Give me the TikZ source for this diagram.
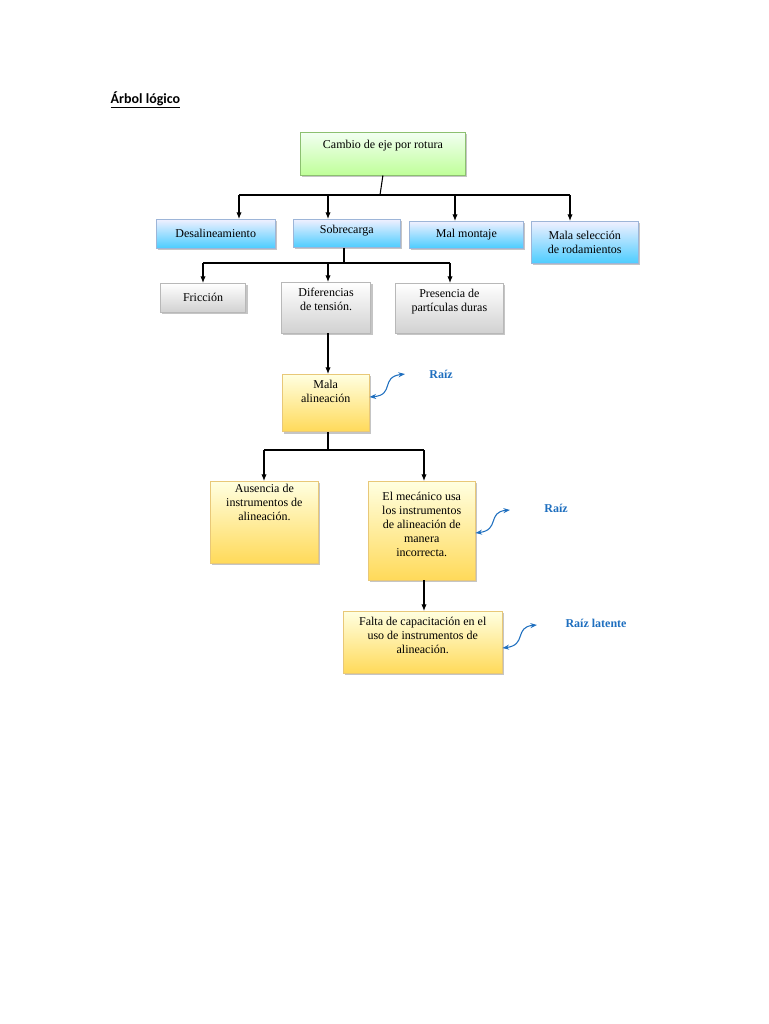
\documentclass[tikz,border=0pt]{standalone}
\usepackage{fontspec}
\setmainfont{Liberation Serif}
\newfontfamily\titlefont{Carlito}
\usetikzlibrary{shadows,arrows.meta}
\definecolor{raizblue}{HTML}{1F6FBF}
\definecolor{bbord}{HTML}{9DB5D8}
\definecolor{gbord}{HTML}{B8B8B8}
\definecolor{ybord}{HTML}{E8C878}
\definecolor{grbord}{HTML}{8CC070}
\begin{document}
\begin{tikzpicture}[x=0.75pt,y=-0.75pt,
  box/.style={draw=#1,line width=0.6pt,inner sep=2pt,align=center,font=\fontsize{9}{10.5}\selectfont,drop shadow={shadow xshift=1.5pt,shadow yshift=-1.5pt,fill=black!45}},
  bluebox/.style={box=bbord,top color=blue!6,bottom color=blue!28!cyan!70!white},
  greybox/.style={box=gbord,top color=white,bottom color=black!18},
  yelbox/.style={box=ybord,top color=yellow!12,bottom color=orange!45!yellow!65!white},
  greenbox/.style={box=grbord,top color=green!5,bottom color=green!50!lime!40!white},
  arr/.style={-{Latex[length=5pt,width=4pt]},line width=0.8pt},
  ln/.style={line width=0.8pt},
  raiz/.style={{Stealth[length=5pt]}-{Stealth[length=5pt]},raizblue,line width=0.8pt},
  rlab/.style={text=raizblue,font=\bfseries\fontsize{9}{10}\selectfont}]
\useasboundingbox (0,0) rectangle (768,1024);
\node[anchor=west,font=\titlefont\bfseries\fontsize{10.5}{12}\selectfont] (title) at (106,100) {\underline{Árbol lógico}};
\node[greenbox,minimum width=123.75pt,minimum height=32pt,anchor=north west,text depth=14pt] (root) at (300,132) {Cambio de eje por rotura};
\node[bluebox,minimum width=89pt,minimum height=21.5pt,anchor=north west] (d) at (156,219) {Desalineamiento};
\node[bluebox,minimum width=80pt,minimum height=21pt,anchor=north west,text depth=6pt] (s) at (293,219) {Sobrecarga};
\node[bluebox,minimum width=85.5pt,minimum height=20pt,anchor=north west] (m) at (409,221) {Mal montaje};
\node[bluebox,minimum width=80pt,minimum height=31.5pt,anchor=north west] (ms) at (531,221) {Mala selección\\de rodamientos};
\node[greybox,minimum width=64pt,minimum height=21.5pt,anchor=north west] (f) at (160,283) {Fricción};
\node[greybox,minimum width=67pt,minimum height=38pt,anchor=north west,text depth=12pt] (dt) at (281,282) {Diferencias\\de tensión.};
\node[greybox,minimum width=81pt,minimum height=37.5pt,anchor=north west,text depth=12pt] (p) at (395,283) {Presencia de\\partículas duras};
\node[yelbox,minimum width=65pt,minimum height=43pt,anchor=north west,text depth=18pt] (ma) at (282,374) {Mala\\alineación};
\node[yelbox,minimum width=81pt,minimum height=59pt,anchor=north west,text depth=30pt] (au) at (210,481) {Ausencia de\\instrumentos de\\alineación.};
\node[yelbox,minimum width=80pt,minimum height=74pt,anchor=north west,text depth=10pt] (em) at (368,481) {El mecánico usa\\los instrumentos\\de alineación de\\manera\\incorrecta.};
\node[yelbox,minimum width=119pt,minimum height=46.5pt,anchor=north west,text depth=10pt] (fc) at (343,611) {Falta de capacitación en el\\uso de instrumentos de\\alineación.};
% connectors
\coordinate (b1) at (380,195);
\draw[ln] (root.south) -- (b1);
\draw[ln] (239,195) -- (570,195);
\draw[arr] (239,195) -- (d.north -| 239,0);
\draw[arr] (328,195) -- (s.north -| 328,0);
\draw[arr] (455,195) -- (m.north -| 455,0);
\draw[arr] (570,195) -- (ms.north -| 570,0);
\coordinate (b2) at (344,263);
\draw[ln] (s.south -| b2) -- (b2);
\draw[ln] (203,263) -- (450,263);
\draw[arr] (203,263) -- (f.north -| 203,0);
\draw[arr] (328,263) -- (dt.north -| 328,0);
\draw[arr] (450,263) -- (p.north -| 450,0);
\draw[arr] (dt.south -| 328,0) -- (ma.north -| 328,0);
\coordinate (b3) at (328,450);
\draw[ln] (ma.south -| b3) -- (b3);
\draw[ln] (264,450) -- (424,450);
\draw[arr] (264,450) -- (au.north -| 264,0);
\draw[arr] (424,450) -- (em.north -| 424,0);
\draw[arr] (em.south -| 424,0) -- (fc.north -| 424,0);
% raiz labels
\node[rlab] (r1) at (441,374) {Raíz};
\node[rlab] (r2) at (556,508) {Raíz};
\node[rlab] (r3) at (596,623) {Raíz latente};
\coordinate (c1) at (405,374);
\coordinate (c2) at (510,510);
\coordinate (c3) at (537,625);
\draw[raiz] (ma.east |- 0,397) .. controls (395,395) and (380,377) .. (c1);
\draw[raiz] (em.east |- 0,533) .. controls (500,530) and (487,512) .. (c2);
\draw[raiz] (fc.east |- 0,648) .. controls (527,645) and (514,627) .. (c3);
\end{tikzpicture}
\end{document}
